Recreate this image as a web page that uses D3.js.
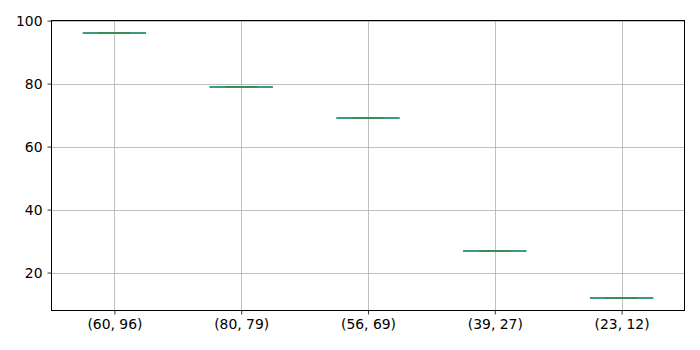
<!DOCTYPE html>
<html>
<head>
<meta charset="utf-8">
<script src="https://cdn.jsdelivr.net/npm/d3@7"></script>
<style>
  body { margin: 0; background: #fff; }
  text { font-family: "DejaVu Sans", sans-serif; }
</style>
</head>
<body>
<div id="chart"></div>
<script>
// one value per group, so every box collapses to a line
var labels = ["(60, 96)", "(80, 79)", "(56, 69)", "(39, 27)", "(23, 12)"];
var values = [96, 79, 69, 27, 12];
var yTicks = [20, 40, 60, 80, 100];

var width = 700, height = 350;
var margin = {left: 51, top: 20, right: 15, bottom: 39};

var svg = d3.select("#chart").append("svg")
    .attr("width", width)
    .attr("height", height);

var x = d3.scaleLinear()
    .domain([0.5, labels.length + 0.5])
    .range([margin.left, width - margin.right]);

var pad = (d3.max(values) - d3.min(values)) * 0.05;
var y = d3.scaleLinear()
    .domain([d3.min(values) - pad, d3.max(values) + pad])
    .range([height - margin.bottom, margin.top]);

// grid
svg.append("g").selectAll("line.gy")
    .data(yTicks).enter().append("line")
    .attr("x1", margin.left).attr("x2", width - margin.right)
    .attr("y1", function (d) { return Math.round(y(d)) + 0.5; })
    .attr("y2", function (d) { return Math.round(y(d)) + 0.5; })
    .attr("stroke", "#b0b0b0").attr("stroke-width", 0.8);

svg.append("g").selectAll("line.gx")
    .data(labels).enter().append("line")
    .attr("x1", function (d, i) { return Math.round(x(i + 1)) + 0.5; })
    .attr("x2", function (d, i) { return Math.round(x(i + 1)) + 0.5; })
    .attr("y1", margin.top).attr("y2", height - margin.bottom)
    .attr("stroke", "#b0b0b0").attr("stroke-width", 0.8);

// boxes
var boxW = 0.5, capW = 0.25;
var g = svg.append("g").selectAll("g.box")
    .data(values).enter().append("g");

function yy(d) { return Math.round(y(d)); }

g.append("line")
    .attr("x1", function (d, i) { return x(i + 1 - boxW / 2); })
    .attr("x2", function (d, i) { return x(i + 1 + boxW / 2); })
    .attr("y1", yy).attr("y2", yy)
    .attr("stroke", "#3a9c78").attr("stroke-width", 2);

g.append("line")
    .attr("x1", function (d, i) { return x(i + 1 - capW / 2); })
    .attr("x2", function (d, i) { return x(i + 1 + capW / 2); })
    .attr("y1", yy).attr("y2", yy)
    .attr("stroke", "#3a8c58").attr("stroke-width", 2);

// axes
var xAxis = d3.axisBottom(x)
    .tickValues(d3.range(1, labels.length + 1))
    .tickFormat(function (d) { return labels[d - 1]; })
    .tickSize(3.5).tickSizeOuter(0).tickPadding(5);
var yAxis = d3.axisLeft(y)
    .tickValues(yTicks)
    .tickSize(3.5).tickSizeOuter(0).tickPadding(5);

var gx = svg.append("g")
    .attr("transform", "translate(0," + (height - margin.bottom) + ")")
    .call(xAxis);
var gy = svg.append("g")
    .attr("transform", "translate(" + margin.left + ",0)")
    .call(yAxis);

[gx, gy].forEach(function (a) {
    a.select(".domain").remove();
    a.selectAll("text").attr("font-size", "13.9px").attr("fill", "#000")
        .style("font-family", "'DejaVu Sans', sans-serif");
    a.selectAll("line").attr("stroke", "#000").attr("stroke-width", 0.8);
});

// frame
svg.append("rect")
    .attr("x", margin.left + 0.5).attr("y", margin.top + 0.5)
    .attr("width", width - margin.left - margin.right - 1)
    .attr("height", height - margin.top - margin.bottom - 1)
    .attr("fill", "none").attr("stroke", "#000").attr("stroke-width", 1);
</script>
</body>
</html>
